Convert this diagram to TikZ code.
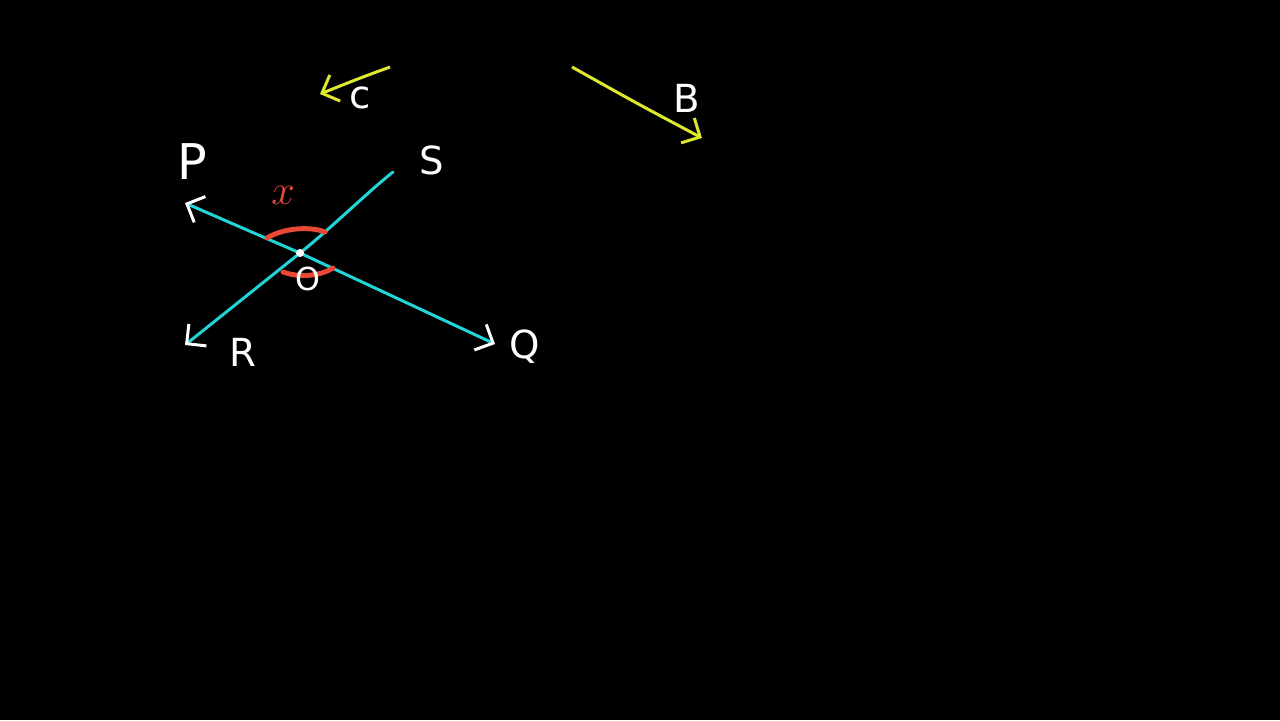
\documentclass[tikz,border=0pt]{standalone}
\usepackage{fontspec}
\setmainfont{DejaVu Sans}
\usetikzlibrary{arrows.meta}

\definecolor{chalkcyan}{RGB}{34,214,216}
\definecolor{chalkred}{RGB}{232,72,52}
\definecolor{chalkyellow}{RGB}{222,232,44}

\tikzset{
  wtip/.tip={Straight Barb[color=white,length=4pt,width=8pt]},
  line/.style={chalkcyan, line width=0.85pt, line join=round, line cap=round},
  arrowy/.style={chalkyellow, line width=0.85pt,
    -{Straight Barb[length=4pt,width=8pt]}},
  angmark/.style={chalkred, line width=1.4pt, line cap=round},
  lbl/.style={white, inner sep=0pt, font=\fontsize{11}{11}\selectfont}
}

\begin{document}
\begin{tikzpicture}[x=0.01cm, y=-0.01cm]
        \fill[black] (0,0) rectangle (1280,720);
        \coordinate (P) at (185,203);
        \coordinate (Q) at (495,344);
        \coordinate (R) at (185,345);
        \coordinate (S) at (393,172);
        \coordinate (O) at (300,253);
        \coordinate (C1) at (390,67);
        \coordinate (C2) at (320,94);
        \coordinate (B1) at (572,67);
        \coordinate (B2) at (702,138);
        % the two crossing lines
        \draw[line, wtip-wtip] (P) -- (O) -- (Q);
        \draw[line, wtip-] (R) -- (O) .. controls (330,229) and (370,190) .. (S);
        % angle marks
        \draw[angmark] (267,238) .. controls (283,228) and (310,226) .. (325,232);
        \draw[angmark] (283,272) .. controls (300,278) and (320,276) .. (333,268);
        \fill[white] (O) circle (4);
        % yellow arrows
        \draw[arrowy] (C1) .. controls (360,78) .. (C2);
        \draw[arrowy] (B1) .. controls (638,104) .. (B2);
        % labels
        \node[lbl, font=\fontsize{14}{14}\selectfont] (lblP) at (192,162) {P};
        \node[lbl] (lblS) at (432,160) {S};
        \node[lbl] (lblR) at (243,352) {R};
        \node[lbl] (lblQ) at (525,347) {Q};
        \node[lbl, font=\fontsize{9}{9}\selectfont] (lblO) at (308,279) {O};
        \node[lbl, chalkred, font=\fontsize{13}{13}\selectfont] (lblx) at (283,195) {$x$};
        \node[lbl] (lblC) at (360,98) {c};
        \node[lbl] (lblB) at (687,98) {B};
      \end{tikzpicture}
\end{document}
